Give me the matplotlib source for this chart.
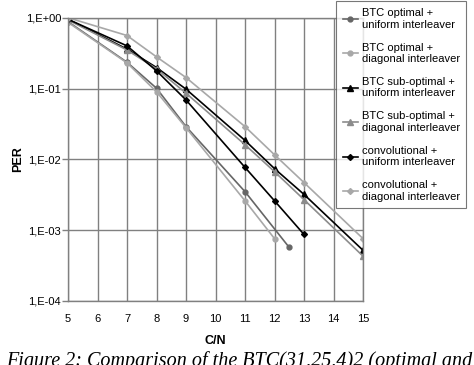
import numpy as np
import matplotlib.pyplot as plt
from matplotlib.ticker import FixedLocator, NullLocator

plt.rcParams['font.family'] = ['Liberation Sans', 'DejaVu Sans']

x_opt_uni = [5, 7, 8, 9, 11, 12.5]
per_opt_uni = [0.88, 0.235, 0.101, 0.029, 0.0035, 0.00057]

x_opt_diag = [5, 7, 8, 9, 11, 12]
per_opt_diag = [0.86, 0.23, 0.09, 0.028, 0.0026, 0.00076]

x_sub = [5, 7, 8, 9, 11, 12, 13, 15]
per_sub_uni = [0.95, 0.36, 0.198, 0.098, 0.0185, 0.0074, 0.0032, 0.00052]
per_sub_diag = [0.93, 0.35, 0.19, 0.086, 0.0161, 0.0067, 0.0027, 0.00043]

x_conv_uni = [5, 7, 8, 9, 11, 12, 13]
per_conv_uni = [0.95, 0.40, 0.178, 0.069, 0.0077, 0.0026, 0.00087]

x_conv_diag = [5, 7, 8, 9, 11, 12, 13, 15]
per_conv_diag = [1.0, 0.56, 0.28, 0.143, 0.029, 0.0116, 0.0047, 0.00076]

yticks = [1, 1e-1, 1e-2, 1e-3, 1e-4]
ytick_labels = ['1,E+00', '1,E-01', '1,E-02', '1,E-03', '1,E-04']

fig = plt.figure(figsize=(4.74, 3.65), dpi=100)
ax = fig.add_axes([68/474, 1-301/365, (363-68)/474, (301-17.7)/365])

ax.plot(x_opt_uni, per_opt_uni, color='#666666', marker='o', ms=3.5, lw=1.2,
        label='BTC optimal +\nuniform interleaver')
ax.plot(x_opt_diag, per_opt_diag, color='#a8a8a8', marker='o', ms=3.5, lw=1.2,
        label='BTC optimal +\ndiagonal interleaver')
ax.plot(x_sub, per_sub_uni, color='black', marker='^', ms=4, lw=1.2,
        label='BTC sub-optimal +\nuniform interleaver')
ax.plot(x_sub, per_sub_diag, color='#8c8c8c', marker='^', ms=4, lw=1.2,
        label='BTC sub-optimal +\ndiagonal interleaver')
ax.plot(x_conv_uni, per_conv_uni, color='black', marker='D', ms=3, lw=1.2,
        label='convolutional +\nuniform interleaver')
ax.plot(x_conv_diag, per_conv_diag, color='#a8a8a8', marker='D', ms=3, lw=1.2,
        label='convolutional +\ndiagonal interleaver')

ax.set_yscale('log')
ax.set_xlim(5, 15)
ax.set_ylim(1e-4, 1)
ax.set_xticks(range(5, 16))
ax.yaxis.set_major_locator(FixedLocator(yticks))
ax.yaxis.set_minor_locator(NullLocator())
ax.set_yticklabels(ytick_labels)
ax.tick_params(axis='y', length=4, width=1, color='#808080', labelsize=8, pad=1)
ax.tick_params(axis='x', length=0, labelsize=8, pad=9)
ax.grid(True, color='#808080', lw=1)
ax.set_axisbelow(True)
for s in ax.spines.values():
    s.set_color('#808080')
    s.set_linewidth(1)

ax.set_xlabel('C/N', fontsize=9, fontweight='bold', labelpad=8)
ax.set_ylabel('PER', fontsize=9, fontweight='bold', labelpad=1)

leg = fig.legend(loc='upper left', bbox_to_anchor=(336/474, 0.996), fontsize=8,
                 frameon=True, fancybox=False, handlelength=1.4, handletextpad=0.3,
                 labelspacing=1.15, borderpad=0.6, borderaxespad=0)
leg.get_frame().set_edgecolor('#555555')
leg.get_frame().set_linewidth(0.8)

fig.text(0.012, -0.002, 'Figure 2: Comparison of the BTC(31,25,4)2 (optimal and',
         family='Liberation Serif', style='italic', fontsize=14.5, va='baseline')

fig.savefig('out.png', dpi=100)
